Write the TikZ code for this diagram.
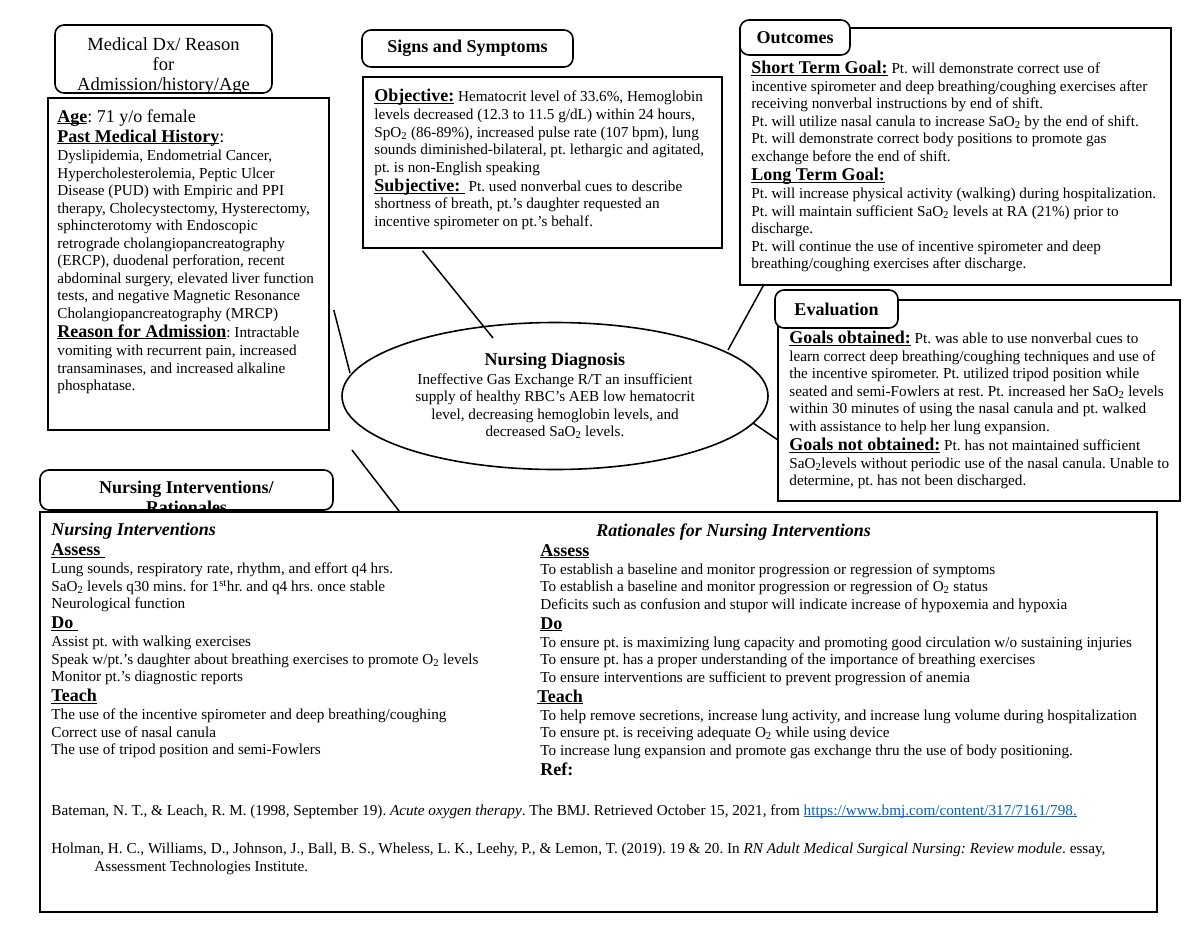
\documentclass[tikz,border=0pt]{standalone}
\usepackage{fontspec}
\setmainfont{Liberation Serif}
\usetikzlibrary{positioning,shapes.geometric}
\definecolor{clink}{HTML}{0563C1}
\newcommand{\bodysize}{\fontsize{15.2}{17.5}\selectfont}
\newcommand{\headsize}{\fontsize{18}{20}\selectfont}
\newcommand{\ul}[1]{\setbox0\hbox{#1}\rlap{\rule[-2.2pt]{\wd0}{0.9pt}}\box0}
\newcommand{\hd}[1]{{\headsize\bfseries\ul{#1}}}
\newcommand{\Otwo}{O\textsubscript{2}}
\tikzset{
  panel/.style={draw,line width=1.6pt,fill=white,inner sep=0pt},
  tag/.style={panel,rounded corners=9pt,font=\headsize\bfseries,align=center},
  tagtext/.style={font=\headsize,align=center,inner sep=0pt},
  txt/.style={font=\bodysize,align=left,inner sep=0pt},
  link/.style={line width=1.5pt},
}
\begin{document}
\frenchspacing
\begin{tikzpicture}[x=1pt,y=-1pt]
\useasboundingbox (0,0) rectangle (1200,927);

% medical history
\node[tag,minimum width=217pt,minimum height=68pt] (dxt) at (163.5,59) {};
\node[tagtext,font=\fontsize{18.5}{20}\selectfont,below=13pt of dxt.north] (dxl) {Medical Dx/ Reason\\for\\Admission/history/Age};
\node[panel,minimum width=281pt,minimum height=332pt] (hist) at (188.5,264) {};
\node[txt,below right=12pt and 10pt of hist.north west] (histtxt) {%
\hd{Age}{\headsize: 71 y/o female}\\[2.5pt]
\hd{Past Medical History}{\headsize:}\\[1pt]
Dyslipidemia, Endometrial Cancer,\\
Hypercholesterolemia, Peptic Ulcer\\
Disease (PUD) with Empiric and PPI\\
therapy, Cholecystectomy, Hysterectomy,\\
sphincterotomy with Endoscopic\\
retrograde cholangiopancreatography\\
(ERCP), duodenal perforation, recent\\
abdominal surgery, elevated liver function\\
tests, and negative Magnetic Resonance\\
Cholangiopancreatography (MRCP)\\[1.5pt]
\hd{Reason for Admission}: Intractable\\[1pt]
vomiting with recurrent pain, increased\\
transaminases, and increased alkaline\\
phosphatase.};

% signs and symptoms
\node[tag,minimum width=211pt,minimum height=37pt] (symt) at (467.5,48.5) {Signs and Symptoms};
\node[panel,minimum width=359pt,minimum height=171pt] (sym) at (542.5,162.5) {};
\node[txt,below right=13pt and 12pt of sym.north west] (symtxt) {%
\hd{Objective:}\ Hematocrit level of 33.6\%, Hemoglobin\\[0.5pt]
levels decreased (12.3 to 11.5 g/dL) within 24 hours,\\
Sp\Otwo{} (86-89\%), increased pulse rate (107 bpm), lung\\
sounds diminished-bilateral, pt. lethargic and agitated,\\
pt. is non-English speaking\\[1.5pt]
\hd{Subjective:\ } Pt. used nonverbal cues to describe\\
shortness of breath, pt.'s daughter requested an\\
incentive spirometer on pt.'s behalf.};

% outcomes
\node[panel,minimum width=431pt,minimum height=257pt] (outc) at (955.5,156.5) {};
\node[tag,minimum width=110pt,minimum height=35pt] (outct) at (795,37.5) {Outcomes};
\node[txt,below right=34pt and 12pt of outc.north west] (outctxt) {%
\hd{Short Term Goal:}\ Pt. will demonstrate correct use of\\
incentive spirometer and deep breathing/coughing exercises after\\
receiving nonverbal instructions by end of shift.\\
Pt. will utilize nasal canula to increase Sa\Otwo{} by the end of shift.\\
Pt. will demonstrate correct body positions to promote gas\\
exchange before the end of shift.\\[1.5pt]
\hd{Long Term Goal:}\\[1pt]
Pt. will increase physical activity (walking) during hospitalization.\\
Pt. will maintain sufficient Sa\Otwo{} levels at RA (21\%) prior to\\
discharge.\\
Pt. will continue the use of incentive spirometer and deep\\
breathing/coughing exercises after discharge.};

% evaluation
\node[panel,minimum width=402pt,minimum height=201pt] (eval) at (979,400.5) {};
\node[tag,minimum width=123pt,minimum height=38pt] (evalt) at (836.5,309) {Evaluation};
\node[txt,below right=32pt and 12pt of eval.north west] (evaltxt) {%
\hd{Goals obtained:}\ Pt. was able to use nonverbal cues to\\
learn correct deep breathing/coughing techniques and use of\\
the incentive spirometer. Pt. utilized tripod position while\\
seated and semi-Fowlers at rest. Pt. increased her Sa\Otwo{} levels\\
within 30 minutes of using the nasal canula and pt. walked\\
with assistance to help her lung expansion.\\[2pt]
\hd{Goals not obtained:}\ Pt. has not maintained sufficient\\
Sa\Otwo{}levels without periodic use of the nasal canula. Unable to\\
determine, pt. has not been discharged.};

% nursing diagnosis
\node[draw,ellipse,line width=1.6pt,fill=white,minimum width=426pt,minimum height=147pt,inner sep=0pt] (diag) at (555,396) {};
\node[txt,align=center] (diagtxt) at (diag.center) {%
{\headsize\bfseries Nursing Diagnosis}\\[1pt]
Ineffective Gas Exchange R/T an insufficient\\
supply of healthy RBC's AEB low hematocrit\\
level, decreasing hemoglobin levels, and\\
decreased Sa\Otwo{} levels.};

% interventions / rationales
\node[tag,minimum width=293pt,minimum height=40pt] (intt) at (186.5,490) {};
\node[tagtext,font=\headsize\bfseries,below=12pt of intt.north] (inttl) {Nursing Interventions/\\Rationales};
\node[panel,minimum width=1117pt,minimum height=400pt] (interv) at (598.5,712) {};
\node[txt,below right=12pt and 12pt of interv.north west] (nitxt) {%
{\headsize\bfseries\itshape Nursing Interventions}\\[2.5pt]
\hd{Assess\ }\\[0.5pt]
Lung sounds, respiratory rate, rhythm, and effort q4 hrs.\\
Sa\Otwo{} levels q30 mins. for 1\textsuperscript{st}hr. and q4 hrs. once stable\\
Neurological function\\[2.5pt]
\hd{Do\ }\\[0.5pt]
Assist pt. with walking exercises\\
Speak w/pt.'s daughter about breathing exercises to promote \Otwo{} levels\\
Monitor pt.'s diagnostic reports\\[2.5pt]
\hd{Teach}\\[0.5pt]
The use of the incentive spirometer and deep breathing/coughing\\
Correct use of nasal canula\\
The use of tripod position and semi-Fowlers};
\node[txt,below right=12pt and 501pt of interv.north west] (ratxt) {%
\hspace*{56pt}{\headsize\bfseries\itshape Rationales for Nursing Interventions}\\[2.5pt]
\hd{Assess}\\[0.5pt]
To establish a baseline and monitor progression or regression of symptoms\\
To establish a baseline and monitor progression or regression of \Otwo{} status\\
Deficits such as confusion and stupor will indicate increase of hypoxemia and hypoxia\\[2.5pt]
\hd{Do}\\[0.5pt]
To ensure pt. is maximizing lung capacity and promoting good circulation w/o sustaining injuries\\
To ensure pt. has a proper understanding of the importance of breathing exercises\\
To ensure interventions are sufficient to prevent progression of anemia\\[2.5pt]
\hspace*{-3pt}\hd{Teach}\\[0.5pt]
To help remove secretions, increase lung activity, and increase lung volume during hospitalization\\
To ensure pt. is receiving adequate \Otwo{} while using device\\
To increase lung expansion and promote gas exchange thru the use of body positioning.\\[2.5pt]
{\headsize\bfseries Ref:}};
\node[txt,below right=293pt and 12pt of interv.north west] (refs) {%
Bateman, N. T., \& Leach, R. M. (1998, September 19). \textit{Acute oxygen therapy}. The BMJ. Retrieved October 15, 2021, from {\color{clink}\ul{https://www.bmj.com/content/317/7161/798.}}\\[21pt]
Holman, H. C., Williams, D., Johnson, J., Ball, B. S., Wheless, L. K., Leehy, P., \& Lemon, T. (2019). 19 \& 20. In \textit{RN Adult Medical Surgical Nursing: Review module}. essay,\\
\hspace*{43pt}Assessment Technologies Institute.};

% connectors
\coordinate (tail) at (352,450);
\draw[link] ([xshift=4pt,yshift=-46pt]hist.east) -- ([xshift=-205pt,yshift=23pt]diag.center);
\draw[link] ([xshift=-120pt,yshift=-2pt]sym.south) -- ([xshift=-62pt,yshift=58pt]diag.center);
\draw[link] ([xshift=24pt]outc.south west) -- ([xshift=173pt,yshift=46pt]diag.center);
\draw[link] ([xshift=198pt,yshift=-27pt]diag.center) -- ([yshift=-39pt]eval.west);
\draw[link] (tail) -- ([xshift=360pt]interv.north west);

\end{tikzpicture}
\end{document}
